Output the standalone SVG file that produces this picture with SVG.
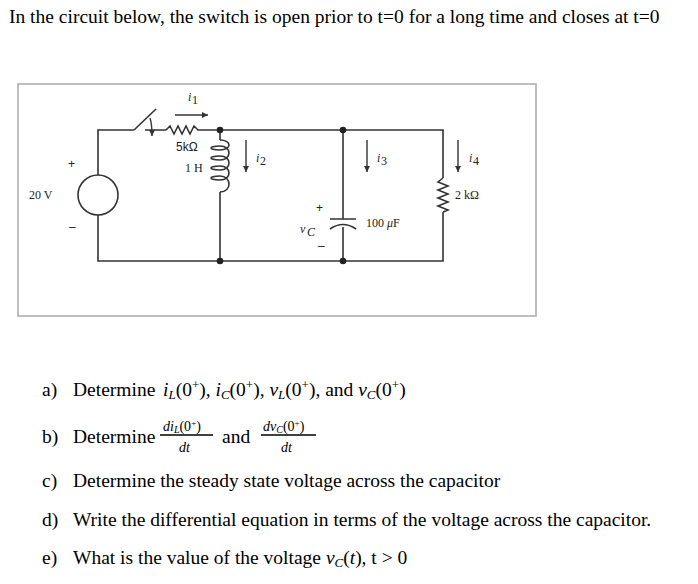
<svg xmlns="http://www.w3.org/2000/svg" width="698" height="584" viewBox="0 0 698 584">
<style>
.t{font-family:"Liberation Serif",serif;font-size:19.5px;fill:#000}
.m{font-family:"Liberation Serif",serif;font-style:italic}
.s{font-family:"Liberation Sans",sans-serif;font-size:12px;fill:#222}
.c{font-family:"Liberation Serif",serif;font-size:12px;fill:#222}
.w{fill:none;stroke:#333;stroke-width:1.6}
.a{stroke:#333;stroke-width:1.4;fill:none;marker-end:url(#ah)}
</style>
<defs><marker id="ah" markerWidth="8" markerHeight="8" refX="6" refY="3" orient="auto" markerUnits="userSpaceOnUse"><path d="M0,0 L6,3 L0,6 Z" fill="#333"/></marker></defs>
<rect width="698" height="584" fill="#fff"/>
<text class="t" x="9" y="23">In the circuit below, the switch is open prior to t=0 for a long time and closes at t=0</text>
<rect x="18" y="84" width="518" height="232" fill="none" stroke="#aaa" stroke-width="1.5"/>
<g id="connectors">
<path class="w" d="M98,175 V130 H134 M145,130 H166 M210,130 H443 V178 M443,212 V261 H98 V215"/>
<path class="w" d="M220,130 V140 M220,192 V261 M343,130 V219 M343,227 V261"/>
</g>
<g id="source"><circle class="w" cx="98" cy="195" r="20"/><text class="c" x="29" y="199" font-size="13">20 V</text><text class="s" x="68" y="168">+</text><text class="s" x="69" y="231">–</text></g>
<g id="switch"><path class="w" d="M134,130 L156,109"/><path class="a" d="M150,118 Q152,124 152,136"/></g>
<g id="r5k"><path class="w" d="M166,130 L170,126 L174,134 L178,126 L182,134 L186,126 L190,134 L194,126 L198,130 L210,130"/><text class="s" x="176" y="151">5kΩ</text><path class="a" d="M175,115 H208"/><text class="c m" x="188" y="101" font-size="13">i</text><text class="c" x="192" y="104" font-size="8">1</text></g>
<g id="L"><path class="w" d="M220,140 C232,140 232,150 220,150 C208,150 208,146 220,146 C232,146 232,160 220,160 C208,160 208,156 220,156 C232,156 232,170 220,170 C208,170 208,166 220,166 C232,166 232,180 220,180 C208,180 208,176 220,176 C232,176 232,192 220,192"/><text class="c" x="185" y="172" font-size="13">1 H</text><path class="a" d="M246,140 V172"/><text class="c m" x="256" y="162" font-size="13">i</text><text class="c" x="260" y="165" font-size="8">2</text></g>
<circle cx="220" cy="130" r="3.3" fill="#222"/><circle cx="220" cy="261" r="3.3" fill="#222"/><circle cx="343" cy="130" r="3.3" fill="#222"/><circle cx="343" cy="261" r="3.3" fill="#222"/>
<g id="cap"><path class="w" d="M330,219 H356 M330,229 Q343,220 356,229"/><text class="c" x="366" y="227" font-size="13">100 <tspan class="m">μ</tspan>F</text><text class="c m" x="300" y="233" font-size="13">v</text><text class="c m" x="307" y="236" font-size="9">C</text><text class="s" x="316" y="212">+</text><text class="s" x="318" y="250">–</text><path class="a" d="M367,140 V172"/><text class="c m" x="377" y="162" font-size="13">i</text><text class="c" x="381" y="165" font-size="8">3</text></g>
<g id="r2k"><path class="w" d="M443,178 L438,182 L448,186 L438,190 L448,194 L438,198 L448,202 L438,206 L448,210 L443,212"/><text class="c" x="455" y="199" font-size="13">2 kΩ</text><path class="a" d="M458,140 V172"/><text class="c m" x="469" y="162" font-size="13">i</text><text class="c" x="473" y="165" font-size="8">4</text></g>
<text class="t" x="42" y="396">a)</text>
<text class="t" x="73" y="396">Determine</text>
<text class="t" x="163" y="396"><tspan class="m">i<tspan font-size="13" dy="3">L</tspan></tspan><tspan dy="-3">(0</tspan><tspan font-size="13" dy="-7">+</tspan><tspan dy="7">), </tspan><tspan class="m">i<tspan font-size="13" dy="3">C</tspan></tspan><tspan dy="-3">(0</tspan><tspan font-size="13" dy="-7">+</tspan><tspan dy="7">), </tspan><tspan class="m">v<tspan font-size="13" dy="3">L</tspan></tspan><tspan dy="-3">(0</tspan><tspan font-size="13" dy="-7">+</tspan><tspan dy="7">), and </tspan><tspan class="m">v<tspan font-size="13" dy="3">C</tspan></tspan><tspan dy="-3">(0</tspan><tspan font-size="13" dy="-7">+</tspan><tspan dy="7">)</tspan></text>
<text class="t" x="42" y="443">b)</text>
<text class="t" x="73" y="443">Determine</text>
<g font-family="Liberation Serif,serif" font-size="14"><text x="163" y="431"><tspan class="m">di<tspan font-size="10" dy="2">L</tspan></tspan><tspan dy="-2">(0</tspan><tspan font-size="9" dy="-5">+</tspan><tspan dy="5">)</tspan></text><path d="M160,435 H213" stroke="#000" stroke-width="1.3"/><text class="m" x="179" y="452">dt</text>
<text x="263" y="431"><tspan class="m">dv<tspan font-size="10" dy="2">C</tspan></tspan><tspan dy="-2">(0</tspan><tspan font-size="9" dy="-5">+</tspan><tspan dy="5">)</tspan></text><path d="M261,435 H316" stroke="#000" stroke-width="1.3"/><text class="m" x="281" y="452">dt</text></g>
<text class="t" x="222" y="443">and</text>
<text class="t" x="42" y="487">c)</text><text class="t" x="73" y="487">Determine the steady state voltage across the capacitor</text>
<text class="t" x="42" y="526">d)</text><text class="t" x="73" y="526">Write the differential equation in terms of the voltage across the capacitor.</text>
<text class="t" x="42" y="564">e)</text><text class="t" x="73" y="564">What is the value of the voltage <tspan class="m">v<tspan font-size="13" dy="3">C</tspan></tspan><tspan dy="-3">(</tspan><tspan class="m">t</tspan>), t &gt; 0</text>
</svg>
